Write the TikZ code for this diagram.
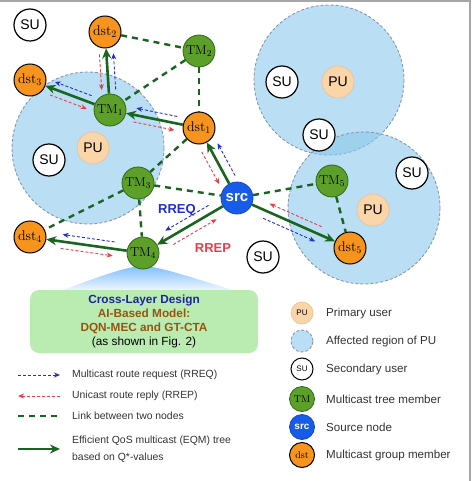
\documentclass[tikz,border=0pt]{standalone}
\usepackage{fontspec}
\setsansfont{Liberation Sans}
\usetikzlibrary{positioning, arrows.meta, calc}

\definecolor{dstorange}{RGB}{247,148,30}
\definecolor{tmgreen}{RGB}{92,160,42}
\definecolor{tmborder}{RGB}{45,105,25}
\definecolor{srcblue}{RGB}{22,92,232}
\definecolor{pupeach}{RGB}{251,213,170}
\definecolor{regionblue}{RGB}{140,200,235}
\definecolor{regionline}{RGB}{135,150,175}
\definecolor{treegreen}{RGB}{25,100,30}
\definecolor{reqblue}{RGB}{35,45,205}
\definecolor{repred}{RGB}{232,62,72}
\definecolor{boxgreen}{RGB}{186,236,178}
\definecolor{modelbrown}{RGB}{150,85,15}

\tikzset{
 basenode/.style={circle, minimum size=32pt, inner sep=0pt},
 dstnode/.style={basenode, draw=black, line width=1pt, fill=dstorange, font=\fontsize{14}{14}\selectfont},
 tmnode/.style={basenode, draw=tmborder, line width=0.8pt, fill=tmgreen, font=\fontsize{13}{13}\selectfont},
 srcnode/.style={basenode, draw=srcblue!80!black, line width=0.8pt, fill=srcblue, text=white, font=\sffamily\bfseries\fontsize{15}{15}\selectfont},
 sunode/.style={basenode, draw=black, line width=1.2pt, fill=white, font=\sffamily\fontsize{14}{14}\selectfont},
 punode/.style={basenode, draw=pupeach!75!brown, line width=0.6pt, fill=pupeach, font=\sffamily\fontsize{14}{14}\selectfont},
 region/.style={fill=regionblue, fill opacity=0.6, draw=regionline, line width=0.9pt, dash pattern=on 3pt off 2pt},
 link/.style={treegreen, line width=2.4pt, dash pattern=on 6pt off 5pt},
 tree/.style={treegreen, line width=2.6pt, -{Stealth[length=10pt,width=9pt]}},
 req/.style={reqblue, line width=0.9pt, dash pattern=on 3pt off 2pt, -{Stealth[length=6pt,width=5pt]}},
 rep/.style={repred, line width=0.9pt, dash pattern=on 3pt off 2pt, -{Stealth[length=6pt,width=5pt]}},
 legtext/.style={anchor=west, inner sep=0pt, text=black!80, font=\sffamily\fontsize{11.6}{14}\selectfont, align=left},
 leftleg/.style={legtext, font=\sffamily\fontsize{10.4}{17}\selectfont},
 legsmall/.style={minimum size=22pt},
}

% request on the right of a tree edge, reply back on its left
\newcommand{\reqrep}[3][7pt]{%
 \draw[req] ($(#2)!0.26!(#3)!#1!-90:(#3)$) -- ($(#2)!0.72!(#3)!#1!-90:(#3)$);
 \draw[rep] ($(#3)!0.28!(#2)!#1!-90:(#2)$) -- ($(#3)!0.74!(#2)!#1!-90:(#2)$);
}

\begin{document}
\begin{tikzpicture}[x=1pt, y=-1pt]
 \useasboundingbox (0,0) rectangle (474,481);
 \draw[gray!70, line width=2pt] (0,1) -- (470,1) -- (470,481);

 % affected regions of the PUs
 \draw[region] (88,148) circle[radius=76];
 \draw[region] (329,80) circle[radius=75];
 \draw[region] (364,208) circle[radius=76];

 % funnel into the design box
 \shade[top color=blue!50!cyan!50, bottom color=white]
  (143,266) .. controls (125,266) and (85,282) .. (52,294) -- (246,294)
  .. controls (205,282) and (160,266) .. (143,266);
 \node[fill=boxgreen, rounded corners=9pt, minimum width=228pt, minimum height=63pt, align=center,
  font=\sffamily\fontsize{11.8}{14}\selectfont] (design) at (144,321.5)
  {\textcolor{reqblue!80!black}{\bfseries Cross-Layer Design}\\
   \textcolor{modelbrown}{\bfseries AI-Based Model:}\\
   \textcolor{modelbrown}{\bfseries DQN-MEC and GT-CTA}\\
   (as shown in Fig. 2)};

 % users
 \node[sunode] (su1) at (30,25) {SU};
 \node[punode] (pu1) at (93,148) {PU};
 \node[sunode] (su2) at (49,160) {SU};
 \node[sunode] (su3) at (263,257) {SU};
 \node[sunode] (su4) at (282,82) {SU};
 \node[punode] (pu2) at (338,82) {PU};
 \node[sunode] (su5) at (319,135) {SU};
 \node[punode] (pu3) at (373,210) {PU};
 \node[sunode] (su6) at (412,173) {SU};

 % multicast nodes
 \node[srcnode] (src) at (237,198) {src};
 \node[dstnode] (dst1) at (199,128) {$\mathrm{dst}_1$};
 \node[dstnode] (dst2) at (105,32) {$\mathrm{dst}_2$};
 \node[dstnode] (dst3) at (30,80) {$\mathrm{dst}_3$};
 \node[dstnode] (dst4) at (30,237) {$\mathrm{dst}_4$};
 \node[dstnode] (dst5) at (350,248) {$\mathrm{dst}_5$};
 \node[tmnode] (tm1) at (110,110) {$\mathrm{TM}_1$};
 \node[tmnode] (tm2) at (199,51) {$\mathrm{TM}_2$};
 \node[tmnode] (tm3) at (138,183) {$\mathrm{TM}_3$};
 \node[tmnode] (tm4) at (143,253) {$\mathrm{TM}_4$};
 \node[tmnode] (tm5) at (332,181) {$\mathrm{TM}_5$};

 % links
 \foreach \a/\b in {dst2/tm2, tm2/tm1, tm2/dst1, dst1/tm3, tm3/src, tm3/dst4, tm3/tm4, src/tm5, tm5/dst5}
  \draw[link] (\a) -- (\b);

 % EQM tree
 \foreach \a/\b in {src/dst1, dst1/tm1, tm1/dst2, tm1/dst3, src/tm4, tm4/dst4, src/dst5}
  \draw[tree] (\a) -- (\b);

 % RREQ / RREP
 \reqrep[9pt]{src}{dst1}
 \reqrep{dst1}{tm1}
 \reqrep{tm1}{dst2}
 \reqrep{tm1}{dst3}
 \reqrep[8pt]{src}{tm4}
 \reqrep{tm4}{dst4}
 \reqrep[8pt]{src}{dst5}

 \node[text=reqblue, font=\sffamily\bfseries\fontsize{13}{13}\selectfont] (rreq) at (177,210) {RREQ};
 \node[text=repred, font=\sffamily\bfseries\fontsize{13}{13}\selectfont] (rrep) at (213,248) {RREP};

 % legend, left
 \node[leftleg] (lreq) at (72,375) {Multicast route request (RREQ)};
 \node[leftleg] (lrep) at (72,396) {Unicast route reply (RREP)};
 \node[leftleg] (llink) at (72,416) {Link between two nodes};
 \node[leftleg] (ltree) at (72,449) {Efficient QoS multicast (EQM) tree\\based on Q*-values};
 \draw[req] ([xshift=-54pt]lreq.west) -- ([xshift=-12pt]lreq.west);
 \draw[rep] ([xshift=-12pt]lrep.west) -- ([xshift=-54pt]lrep.west);
 \draw[link] ([xshift=-54pt]llink.west) -- ([xshift=-12pt]llink.west);
 \draw[tree, line width=2pt] ([xshift=-54pt]ltree.west) -- ([xshift=-12pt]ltree.west);

 % legend, right
 \node[punode, legsmall, font=\sffamily\fontsize{8}{8}\selectfont] (kpu) at (302,313) {PU};
 \node[region, circle, legsmall] (kreg) at (302,341) {};
 \node[sunode, legsmall, line width=1pt, font=\sffamily\fontsize{8}{8}\selectfont] (ksu) at (302,369) {SU};
 \node[tmnode, minimum size=25pt, font=\fontsize{10}{10}\selectfont] (ktm) at (302,399) {TM};
 \node[srcnode, minimum size=25pt, font=\sffamily\bfseries\fontsize{10}{10}\selectfont] (ksrc) at (302,427) {src};
 \node[dstnode, minimum size=25pt, font=\fontsize{10}{10}\selectfont] (kdst) at (302,455) {dst};
 \node[legtext] at (326,313) {Primary user};
 \node[legtext] at (326,341) {Affected region of PU};
 \node[legtext] at (326,369) {Secondary user};
 \node[legtext] at (326,399) {Multicast tree member};
 \node[legtext] at (326,427) {Source node};
 \node[legtext] at (326,455) {Multicast group member};
\end{tikzpicture}
\end{document}
